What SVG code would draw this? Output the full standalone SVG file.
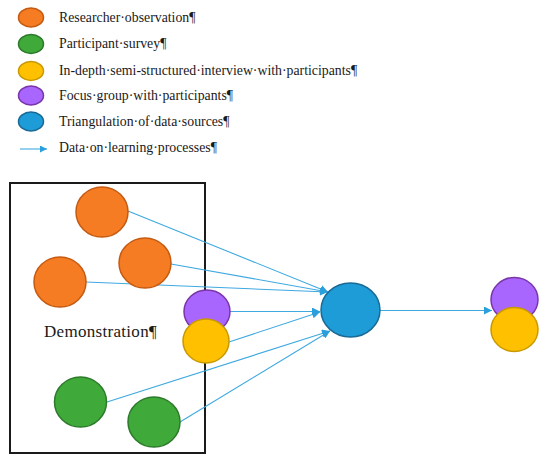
<svg xmlns="http://www.w3.org/2000/svg" width="550" height="463" viewBox="0 0 550 463">
<defs>
<style>
.t{font-family:"Liberation Serif","Times New Roman",serif;font-size:13.8px;fill:#1a1a1a}
.demo{font-family:"Liberation Serif","Times New Roman",serif;font-size:17px;letter-spacing:0.3px;fill:#1a1a1a}
.or{fill:#F57C22;stroke:#C55A11;stroke-width:1.5}
.gr{fill:#3FAA3A;stroke:#2C7A2A;stroke-width:1.5}
.ye{fill:#FFC000;stroke:#C99A00;stroke-width:1.5}
.pu{fill:#A866FF;stroke:#7A35A8;stroke-width:1.5}
.bl{fill:#1E9CD8;stroke:#1A6A96;stroke-width:1.5}
.ln{stroke:#3FA9E0;stroke-width:1.1;fill:none;marker-end:url(#ah)}
</style>
<marker id="ah" viewBox="0 0 10 10" refX="10" refY="5" markerWidth="8" markerHeight="8" markerUnits="userSpaceOnUse" orient="auto">
<path d="M0,0 L10,5 L0,10 z" fill="#2A9FDB"/>
</marker>
<marker id="ahs" viewBox="0 0 10 10" refX="10" refY="5" markerWidth="7" markerHeight="7" markerUnits="userSpaceOnUse" orient="auto">
<path d="M0,0 L10,5 L0,10 z" fill="#2A9FDB"/>
</marker>
</defs>
<rect width="550" height="463" fill="#fff"/>
<g id="legend">
<ellipse class="or" cx="31" cy="17.5" rx="12.5" ry="9.5"/>
<text class="t" x="59" y="21.5">Researcher·observation¶</text>
<ellipse class="gr" cx="31" cy="44" rx="12.5" ry="9.5"/>
<text class="t" x="59" y="48">Participant·survey¶</text>
<ellipse class="ye" cx="31" cy="71" rx="12.5" ry="9.5"/>
<text class="t" x="59" y="75">In-depth·semi-structured·interview·with·participants¶</text>
<ellipse class="pu" cx="31" cy="95.5" rx="12.5" ry="9.5"/>
<text class="t" x="59" y="99.5">Focus·group·with·participants¶</text>
<ellipse class="bl" cx="31" cy="121.5" rx="12.5" ry="9.5"/>
<text class="t" x="59" y="125.5">Triangulation·of·data·sources¶</text>
<line class="ln" x1="20" y1="149" x2="47" y2="149" style="marker-end:url(#ahs)"/>
<text class="t" x="59" y="152">Data·on·learning·processes¶</text>
</g>
<g id="demonstration-box">
<rect x="10" y="183" width="195" height="270" fill="none" stroke="#1a1a1a" stroke-width="2"/>
<text class="demo" x="44" y="337">Demonstration¶</text>
</g>
<g id="connectors">
<line class="ln" x1="128" y1="211" x2="328" y2="292"/>
<line class="ln" x1="171" y1="264" x2="328" y2="292"/>
<line class="ln" x1="86" y1="282" x2="328" y2="292"/>
<line class="ln" x1="230" y1="311.5" x2="320" y2="311.5"/>
<line class="ln" x1="229" y1="342" x2="320" y2="312"/>
<line class="ln" x1="107" y1="402" x2="330" y2="331"/>
<line class="ln" x1="180" y1="422" x2="330" y2="331"/>
<line class="ln" x1="380" y1="310.5" x2="492" y2="310.5"/>
</g>
<g id="obs1"><ellipse class="or" cx="102" cy="212" rx="26" ry="25"/></g>
<g id="obs2"><ellipse class="or" cx="145" cy="263" rx="26" ry="25"/></g>
<g id="obs3"><ellipse class="or" cx="60" cy="282" rx="26" ry="25"/></g>
<g id="focus1"><ellipse class="pu" cx="207" cy="311.5" rx="23" ry="21.5"/></g>
<g id="interview1"><ellipse class="ye" cx="206" cy="341" rx="23" ry="22"/></g>
<g id="survey1"><ellipse class="gr" cx="80.5" cy="402" rx="26" ry="25"/></g>
<g id="survey2"><ellipse class="gr" cx="154" cy="422" rx="26" ry="25"/></g>
<g id="triangulation"><ellipse class="bl" cx="350.5" cy="310" rx="29.5" ry="27"/></g>
<g id="focus2"><ellipse class="pu" cx="514.5" cy="299.5" rx="23.5" ry="22"/></g>
<g id="interview2"><ellipse class="ye" cx="514.5" cy="329.5" rx="23.5" ry="22"/></g>
</svg>
